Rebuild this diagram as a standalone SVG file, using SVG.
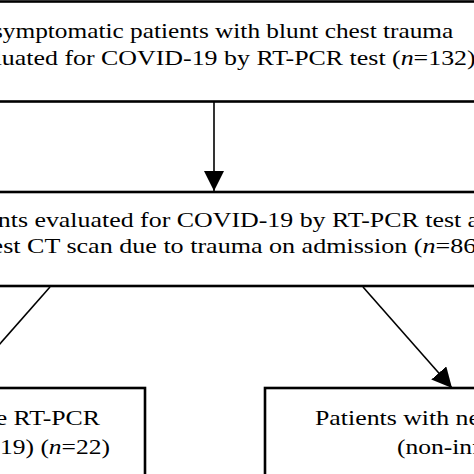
<svg xmlns="http://www.w3.org/2000/svg" width="474" height="474" viewBox="0 0 474 474">
<defs>
<style>
.box{fill:#fff;stroke:#000;stroke-width:2.6}
.i{font-style:italic}
.c{stroke:#000;stroke-width:1.6;fill:none}
</style>
<marker id="ah" markerUnits="userSpaceOnUse" markerWidth="20" markerHeight="20" viewBox="0 0 20 20" refX="20" refY="10" orient="auto">
<path d="M0,0 L20,10 L0,20 Z" fill="#000"/>
</marker>
</defs>
<rect width="474" height="474" fill="#fff"/>
<g id="connectors">
<line class="c" x1="214" y1="102" x2="214" y2="191" marker-end="url(#ah)"/>
<line class="c" x1="50" y1="287" x2="-39" y2="388" marker-end="url(#ah)"/>
<line class="c" x1="363" y1="287" x2="452" y2="388" marker-end="url(#ah)"/>
</g>
<g id="node-screened">
<rect class="box" x="-30" y="1.5" width="540" height="100"/>
<text font-family="Liberation Serif" font-size="21" x="-25.3" y="38" textLength="478.6" lengthAdjust="spacingAndGlyphs">Asymptomatic patients with blunt chest trauma</text>
<text font-family="Liberation Serif" font-size="21" x="-41.3" y="65" textLength="517" lengthAdjust="spacingAndGlyphs">evaluated for COVID-19 by RT-PCR test (<tspan class="i">n</tspan>=132)</text>
</g>
<g id="node-evaluated">
<rect class="box" x="-30" y="192" width="540" height="94"/>
<text font-family="Liberation Serif" font-size="21" x="-54" y="227" textLength="559" lengthAdjust="spacingAndGlyphs">Patients evaluated for COVID-19 by RT-PCR test and</text>
<text font-family="Liberation Serif" font-size="21" x="-33" y="253" textLength="518" lengthAdjust="spacingAndGlyphs">chest CT scan due to trauma on admission (<tspan class="i">n</tspan>=86)</text>
</g>
<g id="node-positive">
<rect class="box" x="-120" y="388" width="265" height="120"/>
<text font-family="Liberation Serif" font-size="21" x="-215" y="425" textLength="315" lengthAdjust="spacingAndGlyphs">Patients with positive RT-PCR</text>
<text font-family="Liberation Serif" font-size="21" x="-97.7" y="454" textLength="207.7" lengthAdjust="spacingAndGlyphs">(COVID-19) (<tspan class="i">n</tspan>=22)</text>
</g>
<g id="node-negative">
<rect class="box" x="265" y="388" width="260" height="120"/>
<text font-family="Liberation Serif" font-size="21" x="315" y="425" textLength="321" lengthAdjust="spacingAndGlyphs">Patients with negative RT-PCR</text>
<text font-family="Liberation Serif" font-size="21" x="397" y="454" textLength="222" lengthAdjust="spacingAndGlyphs">(non-infected) (<tspan class="i">n</tspan>=64)</text>
</g>
</svg>
